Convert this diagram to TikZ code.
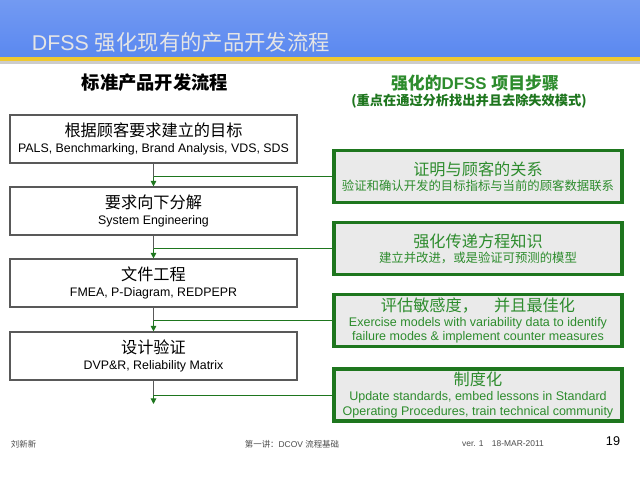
\documentclass[tikz,border=0pt]{standalone}
\usepackage{fontspec}
\setmainfont{Liberation Sans}
\newfontfamily\cjk{Noto Sans CJK SC}
\usetikzlibrary{positioning,arrows.meta}

\definecolor{bandblue}{RGB}{90,136,240}
\definecolor{bandgold}{RGB}{238,200,50}
\definecolor{stepgreen}{RGB}{30,118,30}
\definecolor{textgreen}{RGB}{45,140,45}
\definecolor{boxgray}{RGB}{234,234,234}

\begin{document}
\begin{tikzpicture}[x=0.025cm,y=-0.025cm]
\tikzset{
  stdbox/.style={draw=black!65, line width=0.8pt, minimum width=7.175cm,
    minimum height=1.2cm, align=center, inner sep=1pt,
    font=\fontsize{8.8}{11}\selectfont},
  dfssbox/.style={draw=stepgreen, line width=2.2pt, fill=boxgray,
    minimum width=7.2cm, minimum height=1.3cm, align=center, inner sep=2pt,
    text=textgreen, font=\fontsize{8.9}{10.5}\selectfont},
  link/.style={stepgreen, line width=0.7pt},
  flow/.style={-{Triangle[length=4pt,width=4pt]}},
  foot/.style={text=black!70, font=\fontsize{6}{7}\selectfont}
}
\useasboundingbox (0,0) rectangle (640,480);
\fill[white] (0,0) rectangle (640,480);
% Header band
\shade[top color=bandblue!85!white, bottom color=bandblue] (0,0) rectangle (640,58);
\fill[black!20] (0,60) rectangle (640,64);
\fill[bandgold] (0,57) rectangle (640,61);
\node[anchor=west, text=white!90!black, font=\fontsize{15.2}{18}\selectfont]
  (title) at (27,42) {DFSS {\cjk 强化现有的产品开发流程}};
% Headings
\node[font=\cjk\bfseries\fontsize{13}{15}\selectfont] (stdhead) at (155,83) {标准产品开发流程};
\node[text=textgreen, font=\bfseries\fontsize{12}{15}\selectfont]
  (dfsshead) at (475,83) {{\cjk 强化的}DFSS {\cjk 项目步骤}};
\node[text=stepgreen, font=\cjk\bfseries\fontsize{9.4}{11}\selectfont]
  (dfsssub) at (469,101) {(重点在通过分析找出并且去除失效模式)};
% Standard process
\foreach \n/\y/\a/\b in {
  1/139/根据顾客要求建立的目标/{PALS, Benchmarking, Brand Analysis, VDS, SDS},
  2/211/要求向下分解/{System Engineering},
  3/283/文件工程/{FMEA, P-Diagram, REDPEPR},
  4/356/设计验证/{DVP\&R, Reliability Matrix}}
  \node[stdbox] (std\n) at (153.5,\y) {{\cjk\fontsize{11.5}{14}\selectfont\a}\\\b};
% DFSS steps
\node[dfssbox] (dfss1) at (478,176.5)
  {{\cjk\fontsize{11.5}{14}\selectfont 证明与顾客的关系}\\
   {\cjk\fontsize{8.8}{11}\selectfont 验证和确认开发的目标指标与当前的顾客数据联系}};
\node[dfssbox] (dfss2) at (478,248.5)
  {{\cjk\fontsize{11.5}{14}\selectfont 强化传递方程知识}\\
   {\cjk\fontsize{8.8}{11}\selectfont 建立并改进，或是验证可预测的模型}};
\node[dfssbox] (dfss3) at (478,320.5)
  {{\cjk\fontsize{11.5}{13}\selectfont 评估敏感度，\quad 并且最佳化}\\
   Exercise models with variability data to identify\\
   failure modes \& implement counter measures};
\node[dfssbox] (dfss4) at (478,395)
  {{\cjk\fontsize{11.5}{13}\selectfont 制度化}\\
   Update standards, embed lessons in Standard\\
   Operating Procedures, train technical community};
% Connectors
\coordinate (tail) at (153.5,404);
\foreach \n/\t in {1/std2.north,2/std3.north,3/std4.north,4/tail} {
  \coordinate (j\n) at (std\n.south |- dfss\n.west);
  \draw[black!65, line width=0.8pt] (std\n.south) -- (j\n);
  \draw[link] (dfss\n.west) -- (j\n);
  \draw[link, flow] (j\n) -- (\t);
}
% Footer
\node[foot, anchor=west] (author) at (6,444) {\cjk 刘新新};
\node[foot] (lecture) at (292,444) {{\cjk 第一讲：}DCOV {\cjk 流程基础}};
\node[foot] (version) at (503,444) {ver. 1\quad 18-MAR-2011};
\node[font=\fontsize{9}{10}\selectfont] (page) at (613,441) {19};
\end{tikzpicture}
\end{document}
